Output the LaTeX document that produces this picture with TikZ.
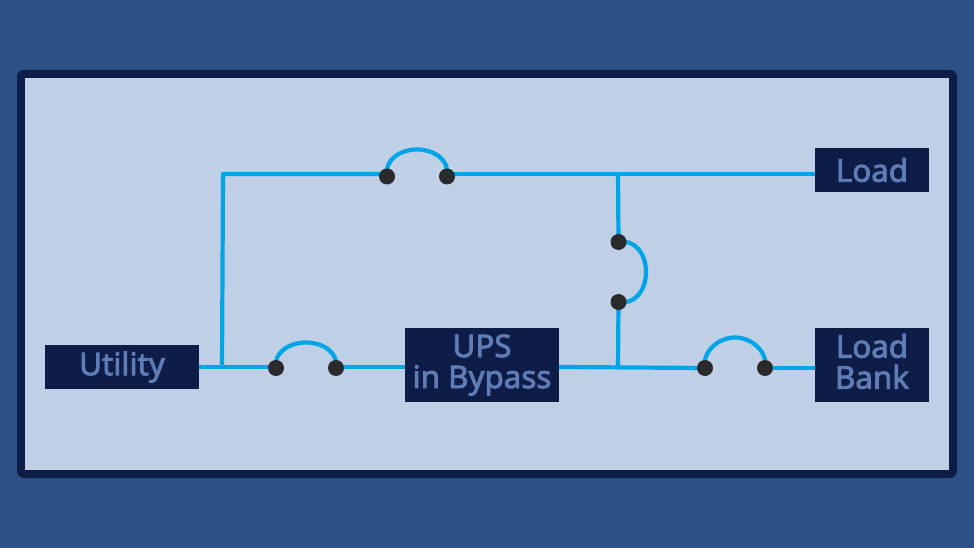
\documentclass[tikz,border=0pt]{standalone}
\usepackage{fontspec}
\setmainfont{Noto Sans}
\newfontfamily\boxfont{Noto Sans}[RawFeature={embolden=2.6}]
\definecolor{bg}{HTML}{2C5285}
\definecolor{frameC}{HTML}{0D1D47}
\definecolor{panel}{HTML}{BFCFE6}
\definecolor{wire}{HTML}{00A5E8}
\definecolor{dotC}{HTML}{2A2A2C}
\definecolor{txt}{HTML}{5F7CB4}
\tikzset{
  box/.style={fill=frameC,text=txt,inner sep=0pt,align=center,font=\boxfont\fontsize{31.3}{31}\selectfont},
  contact/.style={circle,fill=dotC,minimum size=16pt,inner sep=0pt},
  wireline/.style={draw=wire,line width=4.2pt},
}
\begin{document}
\begin{tikzpicture}[x=1pt,y=-1pt]
\useasboundingbox (0,0) rectangle (974,548);
\fill[bg] (0,0) rectangle (974,548);
\fill[frameC,rounded corners=7pt] (17,70) rectangle (957,478);
\fill[panel] (25,78) rectangle (949,470);
% wires are drawn between named points first, so that boxes and contacts lie over them
\coordinate (jA) at (222,367);
\coordinate (jB) at (223,174);
\coordinate (jC) at (618,172);
\coordinate (jD) at (618,367);
\coordinate (uE) at (199,367);
\coordinate (a1) at (387,176.5);
\coordinate (a2) at (447,176.5);
\coordinate (b1) at (276,368);
\coordinate (b2) at (336,368);
\coordinate (c1) at (618.5,242);
\coordinate (c2) at (618.5,302);
\coordinate (d1) at (705,368);
\coordinate (d2) at (765,368);
\coordinate (lW) at (815,174);
\coordinate (uW) at (405,367);
\coordinate (uX) at (559,367);
\coordinate (bW) at (815,368);
\draw[wireline] (uE) -- (jA) -- (b1 |- jA);
\draw[wireline] (b2 |- jA) -- (uW);
\draw[wireline,line join=round] (jA) -- (jB) -- (a1 |- jB);
\draw[wireline] (a2 |- jB) -- (lW);
\draw[wireline] (jC) -- (c1);
\draw[wireline] (c2) -- (jD);
\draw[wireline] (uX) -- (d1);
\draw[wireline] (d2) -- (bW);
\draw[wireline] (a1) .. controls (384,160) and (400,149.5) .. (417,149.5) .. controls (434,149.5) and (450,160) .. (a2);
\draw[wireline] (b1) .. controls (273,353) and (289,342.5) .. (306,342.5) .. controls (323,342.5) and (339,353) .. (b2);
\draw[wireline] (d1) .. controls (702,352) and (718,337.5) .. (735,337.5) .. controls (752,337.5) and (768,352) .. (d2);
\draw[wireline] (c1) .. controls (635,239) and (646,254) .. (646,272) .. controls (646,290) and (635,305) .. (c2);
% boxes
\node[box,minimum width=154pt,minimum height=44pt] (utility) at (122,367) {Utility};
\node[box,minimum width=154pt,minimum height=74pt] (ups) at (482,365) {UPS\\in Bypass};
\node[box,minimum width=114pt,minimum height=44pt] (load) at (872,170) {Load};
\node[box,minimum width=114pt,minimum height=74pt] (bank) at (872,365) {Load\\Bank\vphantom{y}};
% contacts
\foreach \n in {a1,a2,b1,b2,c1,c2,d1,d2}{\node[contact] (k\n) at (\n) {};}
\end{tikzpicture}
\end{document}
